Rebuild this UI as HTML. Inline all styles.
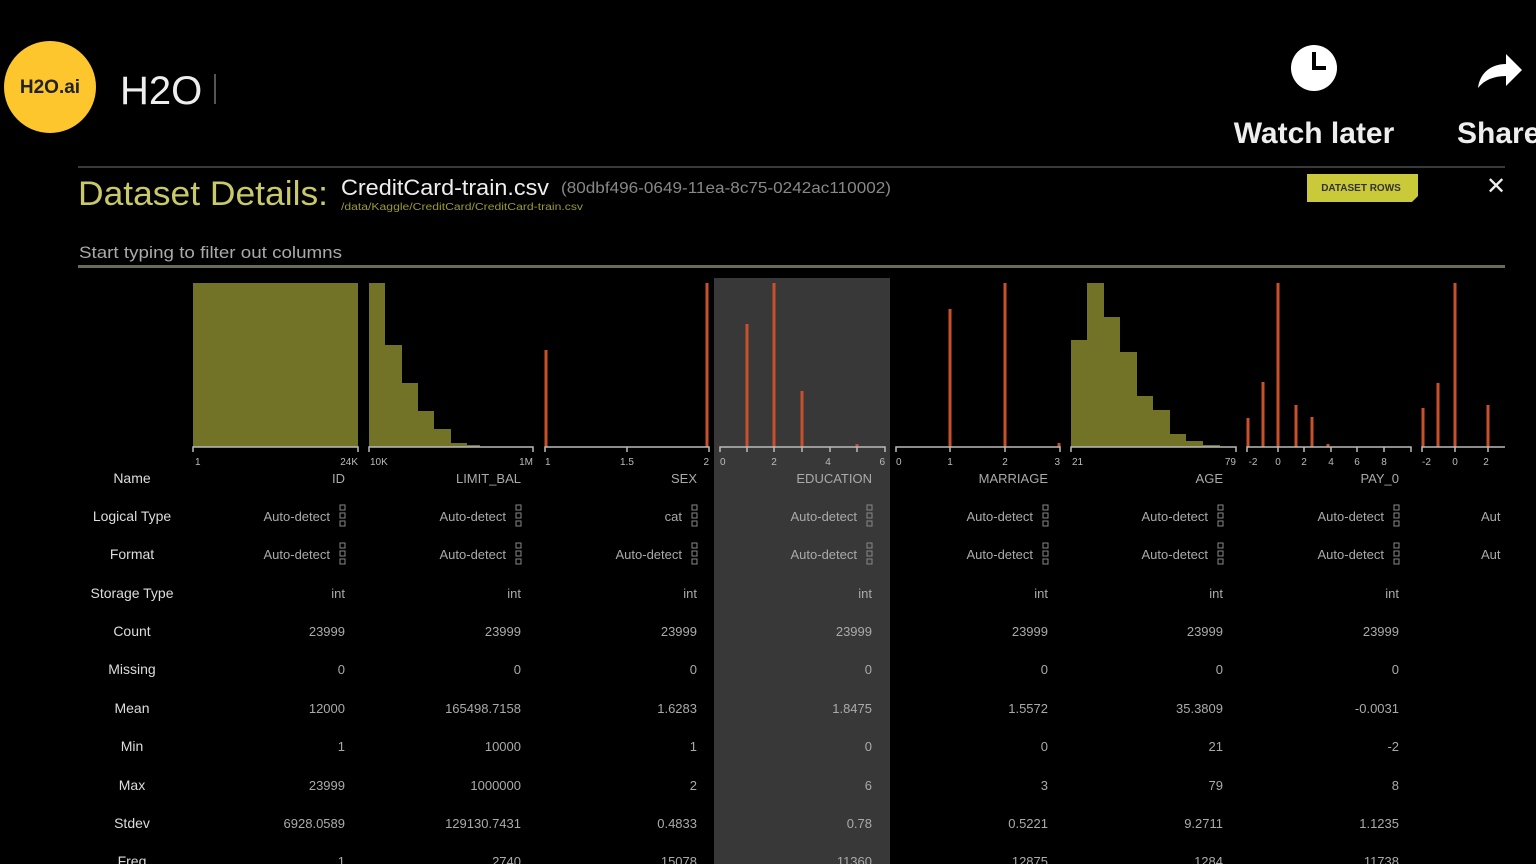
<!DOCTYPE html>
<html><head><meta charset="utf-8"><style>
html,body{margin:0;padding:0;background:#000;width:1536px;height:864px;overflow:hidden}
svg{display:block}
text{font-family:"Liberation Sans",sans-serif}
</style></head><body>
<svg width="1536" height="864" viewBox="0 0 1536 864">
<rect width="1536" height="864" fill="#000"/>
<!-- header -->
<circle cx="50" cy="87" r="46" fill="#fcc62c"/>
<text x="50" y="93" text-anchor="middle" font-size="19" font-weight="bold" fill="#222">H2O.ai</text>
<text x="120" y="104" font-size="40" fill="#eee">H2O</text>
<rect x="214" y="74" width="2" height="30" fill="#555"/>
<circle cx="1314" cy="68" r="23" fill="#fff"/>
<path d="M1314 52 V68 H1326" stroke="#000" stroke-width="4" fill="none"/>
<text x="1314" y="143" text-anchor="middle" font-size="30" font-weight="bold" fill="#eee">Watch later</text>
<path d="M1478 88 C1480 72 1492 64 1506 64 V54 L1522 70 L1506 86 V76 C1494 76 1484 80 1478 88Z" fill="#fff"/>
<text x="1457" y="143" font-size="30" font-weight="bold" fill="#eee">Share</text>
<!-- panel -->
<rect x="78" y="166" width="1427" height="2" fill="#3a3a3a"/>
<text x="78" y="205" font-size="34" fill="#c9c96a" textLength="250" lengthAdjust="spacingAndGlyphs">Dataset Details:</text>
<text x="341" y="195" font-size="22" fill="#eee" textLength="208" lengthAdjust="spacingAndGlyphs">CreditCard-train.csv</text>
<text x="561" y="193" font-size="16" fill="#888" textLength="330" lengthAdjust="spacingAndGlyphs">(80dbf496-0649-11ea-8c75-0242ac110002)</text>
<text x="341" y="210" font-size="10" fill="#9a9a30" textLength="242" lengthAdjust="spacingAndGlyphs">/data/Kaggle/CreditCard/CreditCard-train.csv</text>
<path d="M1307 174 H1418 V196 L1412 202 H1307Z" fill="#c9c93a"/>
<text x="1361" y="191" text-anchor="middle" font-size="10" font-weight="bold" fill="#333">DATASET ROWS</text>
<text x="1496" y="194" text-anchor="middle" font-size="24" fill="#eee">✕</text>
<text x="79" y="258" font-size="17" fill="#aaa" textLength="263" lengthAdjust="spacingAndGlyphs">Start typing to filter out columns</text>
<rect x="78" y="265" width="1427" height="3" fill="#6c6c55"/>
<!-- highlight column -->
<rect x="714" y="278" width="176" height="586" fill="#383838"/>
<!-- ID -->
<rect x="193" y="283" width="165" height="164" fill="#737327"/>
<!-- LIMIT_BAL -->
<path d="M369 447 V283 H385 V345 H402 V383 H418 V411 H434 V429 H451 V443 H467 V445 H480 V447Z" fill="#737327"/>
<!-- AGE -->
<path d="M1071 447 V340 H1087 V283 H1104 V317 H1120 V352 H1137 V396 H1153 V410 H1170 V434 H1186 V441 H1203 V445 H1220 V447Z" fill="#737327"/>
<g stroke="#c8502a" stroke-width="3">
<line x1="546" y1="447" x2="546" y2="350"/><line x1="707" y1="447" x2="707" y2="283"/>
<line x1="747" y1="447" x2="747" y2="324"/><line x1="774" y1="447" x2="774" y2="283"/><line x1="802" y1="447" x2="802" y2="391"/><line x1="857" y1="447" x2="857" y2="444"/>
<line x1="950" y1="447" x2="950" y2="309"/><line x1="1005" y1="447" x2="1005" y2="283"/><line x1="1059" y1="447" x2="1059" y2="443"/>
<line x1="1248" y1="447" x2="1248" y2="418"/><line x1="1263" y1="447" x2="1263" y2="382"/><line x1="1278" y1="447" x2="1278" y2="283"/><line x1="1296" y1="447" x2="1296" y2="405"/><line x1="1312" y1="447" x2="1312" y2="417"/><line x1="1328" y1="447" x2="1328" y2="444"/>
<line x1="1423" y1="447" x2="1423" y2="408"/><line x1="1438" y1="447" x2="1438" y2="383"/><line x1="1455" y1="447" x2="1455" y2="283"/><line x1="1488" y1="447" x2="1488" y2="405"/>
</g>
<!-- axes -->
<g stroke="#bbb" stroke-width="1.5" fill="none">
<path d="M193 452 V447 H358 V452"/><path d="M369 452 V447 H533 V452"/><path d="M545 452 V447 H709 V452 M627 447 V452"/>
<path d="M720 452 V447 H885 V452 M747 447V452 M774 447V452 M802 447V452 M830 447V452 M857 447V452"/>
<path d="M896 452 V447 H1060 V452 M950 447V452 M1005 447V452"/><path d="M1071 452 V447 H1236 V452"/>
<path d="M1247 452 V447 H1411 V452 M1278 447V452 M1304 447V452 M1331 447V452 M1357 447V452 M1384 447V452"/>
<path d="M1422 452 V447 H1505 M1455 447V452 M1488 447V452"/>
</g>
<g font-size="10" fill="#bbb">
<text x="195" y="465">1</text><text x="358" y="465" text-anchor="end">24K</text>
<text x="370" y="465">10K</text><text x="533" y="465" text-anchor="end">1M</text>
<text x="545" y="465">1</text><text x="620" y="465">1.5</text><text x="709" y="465" text-anchor="end">2</text>
<text x="720" y="465">0</text><text x="774" y="465" text-anchor="middle">2</text><text x="828" y="465" text-anchor="middle">4</text><text x="885" y="465" text-anchor="end">6</text>
<text x="896" y="465">0</text><text x="950" y="465" text-anchor="middle">1</text><text x="1005" y="465" text-anchor="middle">2</text><text x="1060" y="465" text-anchor="end">3</text>
<text x="1072" y="465">21</text><text x="1236" y="465" text-anchor="end">79</text>
<text x="1253" y="465" text-anchor="middle">-2</text><text x="1278" y="465" text-anchor="middle">0</text><text x="1304" y="465" text-anchor="middle">2</text><text x="1331" y="465" text-anchor="middle">4</text><text x="1357" y="465" text-anchor="middle">6</text><text x="1384" y="465" text-anchor="middle">8</text>
<text x="1422" y="465">-2</text><text x="1455" y="465" text-anchor="middle">0</text><text x="1486" y="465" text-anchor="middle">2</text>
</g>
<!-- table -->
<g font-size="14" fill="#ddd" text-anchor="middle">
<text x="132" y="483">Name</text><text x="132" y="521">Logical Type</text><text x="132" y="559">Format</text><text x="132" y="598">Storage Type</text>
<text x="132" y="636">Count</text><text x="132" y="674">Missing</text><text x="132" y="713">Mean</text><text x="132" y="751">Min</text>
<text x="132" y="790">Max</text><text x="132" y="828">Stdev</text><text x="132" y="866">Freq</text>
</g>
<g font-size="13" fill="#aaa" text-anchor="end">
<text x="345" y="483">ID</text><text x="521" y="483">LIMIT_BAL</text><text x="697" y="483">SEX</text><text x="872" y="483">EDUCATION</text><text x="1048" y="483">MARRIAGE</text><text x="1223" y="483">AGE</text><text x="1399" y="483">PAY_0</text>
<text x="330" y="521">Auto-detect</text><text x="506" y="521">Auto-detect</text><text x="682" y="521">cat</text><text x="857" y="521">Auto-detect</text><text x="1033" y="521">Auto-detect</text><text x="1208" y="521">Auto-detect</text><text x="1384" y="521">Auto-detect</text>
<text x="330" y="559">Auto-detect</text><text x="506" y="559">Auto-detect</text><text x="682" y="559">Auto-detect</text><text x="857" y="559">Auto-detect</text><text x="1033" y="559">Auto-detect</text><text x="1208" y="559">Auto-detect</text><text x="1384" y="559">Auto-detect</text>
<text x="345" y="598">int</text><text x="521" y="598">int</text><text x="697" y="598">int</text><text x="872" y="598">int</text><text x="1048" y="598">int</text><text x="1223" y="598">int</text><text x="1399" y="598">int</text>
<text x="345" y="636">23999</text><text x="521" y="636">23999</text><text x="697" y="636">23999</text><text x="872" y="636">23999</text><text x="1048" y="636">23999</text><text x="1223" y="636">23999</text><text x="1399" y="636">23999</text>
<text x="345" y="674">0</text><text x="521" y="674">0</text><text x="697" y="674">0</text><text x="872" y="674">0</text><text x="1048" y="674">0</text><text x="1223" y="674">0</text><text x="1399" y="674">0</text>
<text x="345" y="713">12000</text><text x="521" y="713">165498.7158</text><text x="697" y="713">1.6283</text><text x="872" y="713">1.8475</text><text x="1048" y="713">1.5572</text><text x="1223" y="713">35.3809</text><text x="1399" y="713">-0.0031</text>
<text x="345" y="751">1</text><text x="521" y="751">10000</text><text x="697" y="751">1</text><text x="872" y="751">0</text><text x="1048" y="751">0</text><text x="1223" y="751">21</text><text x="1399" y="751">-2</text>
<text x="345" y="790">23999</text><text x="521" y="790">1000000</text><text x="697" y="790">2</text><text x="872" y="790">6</text><text x="1048" y="790">3</text><text x="1223" y="790">79</text><text x="1399" y="790">8</text>
<text x="345" y="828">6928.0589</text><text x="521" y="828">129130.7431</text><text x="697" y="828">0.4833</text><text x="872" y="828">0.78</text><text x="1048" y="828">0.5221</text><text x="1223" y="828">9.2711</text><text x="1399" y="828">1.1235</text>
<text x="345" y="866">1</text><text x="521" y="866">2740</text><text x="697" y="866">15078</text><text x="872" y="866">11360</text><text x="1048" y="866">12875</text><text x="1223" y="866">1284</text><text x="1399" y="866">11738</text>
</g>
<g font-size="13" fill="#aaa"><text x="1481" y="521">Aut</text><text x="1481" y="559">Aut</text></g>
<g fill="none" stroke="#888" stroke-width="1">
<path d="M340 505h5v5h-5z M340 513h5v5h-5z M340 521h5v5h-5z M340 543h5v5h-5z M340 551h5v5h-5z M340 559h5v5h-5z"/>
<path d="M516 505h5v5h-5z M516 513h5v5h-5z M516 521h5v5h-5z M516 543h5v5h-5z M516 551h5v5h-5z M516 559h5v5h-5z"/>
<path d="M692 505h5v5h-5z M692 513h5v5h-5z M692 521h5v5h-5z M692 543h5v5h-5z M692 551h5v5h-5z M692 559h5v5h-5z"/>
<path d="M867 505h5v5h-5z M867 513h5v5h-5z M867 521h5v5h-5z M867 543h5v5h-5z M867 551h5v5h-5z M867 559h5v5h-5z"/>
<path d="M1043 505h5v5h-5z M1043 513h5v5h-5z M1043 521h5v5h-5z M1043 543h5v5h-5z M1043 551h5v5h-5z M1043 559h5v5h-5z"/>
<path d="M1218 505h5v5h-5z M1218 513h5v5h-5z M1218 521h5v5h-5z M1218 543h5v5h-5z M1218 551h5v5h-5z M1218 559h5v5h-5z"/>
<path d="M1394 505h5v5h-5z M1394 513h5v5h-5z M1394 521h5v5h-5z M1394 543h5v5h-5z M1394 551h5v5h-5z M1394 559h5v5h-5z"/>
</g>
</svg>
</body></html>
